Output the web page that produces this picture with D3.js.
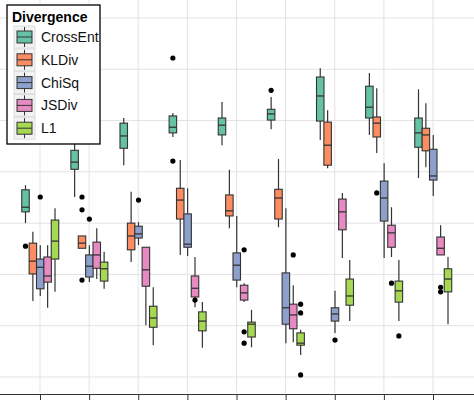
<!DOCTYPE html>
<html><head><meta charset="utf-8">
<script src="https://cdn.jsdelivr.net/npm/d3@7"></script>
<style>body{margin:0;background:#fff}svg{display:block}</style>
</head><body><svg id="c" width="474" height="401"></svg>
<script>
const groups=[1,2,3,4,5,6,7,8,9];
const series=["CrossEnt","KLDiv","ChiSq","JSDiv","L1"];
const colors=["#66c2a5","#fc8d62","#8da0cb","#e78ac3","#a6d854"];
// [whiskerMax, q3, median, q1, whiskerMin] per group, per series
const CrossEnt=[[3.74,3.65,3.31,3.22,3.00],[4.62,4.42,4.19,4.05,3.51],[5.05,4.95,4.70,4.46,4.13],[5.15,5.09,4.87,4.76,4.68],[5.36,5.05,4.91,4.72,4.52],[5.46,5.22,5.13,5.01,4.83],[6.02,5.85,5.48,4.99,4.62],[5.93,5.67,5.26,5.05,4.72],[5.61,5.05,4.76,4.48,3.88]];
const KLDiv=[[2.83,2.61,2.26,2.01,1.48],[2.75,2.75,2.61,2.51,2.51],[3.61,3.00,2.75,2.48,2.24],[4.23,3.68,3.45,3.08,2.38],[4.04,3.55,3.24,3.14,2.90],[4.25,3.66,3.49,3.08,2.92],[5.20,4.97,4.52,4.13,4.07],[5.63,5.07,4.95,4.68,4.37],[5.34,4.85,4.72,4.41,4.09]];
const ChiSq=[[2.57,2.30,2.14,1.72,1.58],[2.57,2.38,2.16,1.95,1.85],[3.02,2.94,2.79,2.71,2.57],[3.68,3.18,2.59,2.53,2.36],[3.14,2.42,2.18,1.89,1.75],[3.29,2.03,1.35,1.03,0.66],[1.68,1.35,1.23,1.09,0.86],[4.17,3.82,3.49,3.04,2.32],[4.72,4.44,3.92,3.84,3.53]];
const JSDiv=[[2.57,2.34,1.97,1.85,1.35],[2.90,2.63,2.38,2.12,1.91],[2.53,2.53,2.09,1.77,1.01],[2.34,1.97,1.73,1.56,1.36],[1.83,1.79,1.64,1.50,1.46],[1.79,1.42,1.21,0.94,0.68],[3.59,3.47,3.22,2.87,2.32],[3.31,2.96,2.81,2.53,2.34],[2.96,2.73,2.51,2.38,2.38]];
const L1=[[3.29,3.06,2.65,2.30,1.66],[2.44,2.24,2.11,1.87,1.72],[1.75,1.38,1.15,0.97,0.62],[1.46,1.27,1.09,0.90,0.57],[1.31,1.07,1.03,0.78,0.58],[0.92,0.86,0.66,0.62,0.43],[2.28,1.91,1.58,1.40,1.09],[2.28,1.87,1.68,1.46,1.09],[2.34,2.11,1.91,1.66,1.03]];
// outliers: [groupIndex, seriesIndex, value]
const outliers=[[0,0,2.55],[0,2,3.51],[1,1,3.51],[1,1,3.26],[1,1,1.89],[1,2,3.08],[2,2,3.45],[3,0,6.22],[3,0,4.21],[3,3,1.50],[4,3,2.48],[4,3,0.88],[4,3,0.66],[5,0,5.59],[5,3,2.38],[5,4,1.42],[5,4,1.25],[5,4,0.04],[6,2,0.72],[7,1,3.59],[7,3,1.83],[7,4,0.80],[8,3,1.75],[8,3,1.66]];
const yGrid=[0,1,2,3,4,5,6,7];
const data=[CrossEnt,KLDiv,ChiSq,JSDiv,L1];

const svg=d3.select("#c");
const x=d3.scaleLinear().domain([0,8]).range([40,433]);
const y=d3.scaleLinear().domain([0,7]).range([377,18]);
const dx=d3.scaleLinear().domain([0,4]).range([-14.5,15]);
const bw=7.5;
const g=svg.append("g");
g.selectAll(".hg").data(yGrid).join("line").attr("x1",0).attr("x2",474)
 .attr("y1",d=>y(d)).attr("y2",d=>y(d)).attr("stroke","#e3e3e3").attr("stroke-width",1);
g.selectAll(".vg").data(groups).join("line").attr("y1",0).attr("y2",393)
 .attr("x1",(d,i)=>x(i)).attr("x2",(d,i)=>x(i)).attr("stroke","#e3e3e3");
const ax=d3.axisBottom(x).tickValues(d3.range(9)).tickFormat("").tickSizeOuter(0).tickSize(6);
svg.append("g").attr("transform","translate(0,394)").call(ax).call(s=>{s.selectAll("line,path").attr("stroke","#333");});
svg.select(".domain").attr("d","M0,0.5H474");
series.forEach((s,si)=>{
  const sg=svg.append("g");
  data[si].forEach((v,gi)=>{
    const cx=x(gi)+dx(si);
    sg.append("line").attr("x1",cx).attr("x2",cx).attr("y1",y(v[0])).attr("y2",y(v[4])).attr("stroke","#333").attr("stroke-width",1.2);
    sg.append("rect").attr("x",cx-bw/2).attr("width",bw).attr("y",y(v[1])).attr("height",Math.max(1,y(v[3])-y(v[1])))
      .attr("fill",colors[si]).attr("stroke","#333").attr("stroke-width",1.1);
    sg.append("line").attr("x1",cx-bw/2).attr("x2",cx+bw/2).attr("y1",y(v[2])).attr("y2",y(v[2])).attr("stroke","#333").attr("stroke-width",1.3);
  });
});
svg.append("g").selectAll("circle").data(outliers).join("circle")
 .attr("cx",d=>x(d[0])+dx(d[1])).attr("cy",d=>y(d[2])).attr("r",2.6).attr("fill","#000");
const lg=svg.append("g");
lg.append("rect").attr("x",7).attr("y",5).attr("width",93).attr("height",139).attr("fill","#fff").attr("stroke","#000").attr("stroke-width",1.3);
lg.append("text").attr("x",12).attr("y",22).text("Divergence").attr("font-family","Liberation Sans, Arial, sans-serif").attr("font-weight","bold").attr("font-size",14);
series.forEach((s,i)=>{
  const yy=37+i*22.8;
  lg.append("rect").attr("x",14).attr("y",yy-11).attr("width",21).attr("height",22).attr("fill","#f2f2f2").attr("stroke","#ddd");
  lg.append("line").attr("x1",24.5).attr("x2",24.5).attr("y1",yy-10).attr("y2",yy+10).attr("stroke","#333");
  lg.append("rect").attr("x",17).attr("y",yy-6).attr("width",15).attr("height",12).attr("fill",colors[i]).attr("stroke","#333");
  lg.append("line").attr("x1",17).attr("x2",32).attr("y1",yy).attr("y2",yy).attr("stroke","#333");
  lg.append("text").attr("x",41).attr("y",yy+5).text(s).attr("font-family","Liberation Sans, Arial, sans-serif").attr("font-size",14).attr("fill","#111");
});
</script></body></html>
